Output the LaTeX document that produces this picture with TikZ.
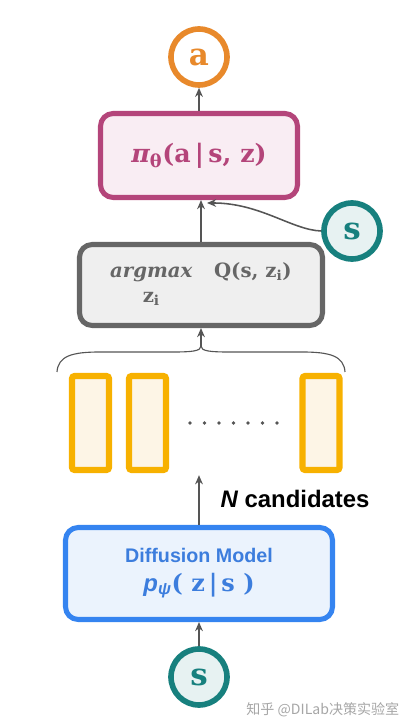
\documentclass[tikz,border=0pt]{standalone}
\usepackage{fontspec}
\setmainfont{DejaVu Serif}
\setsansfont{Liberation Sans}
\newfontfamily\cjk{Noto Sans CJK SC}
\usetikzlibrary{positioning,arrows.meta}
\definecolor{orangeA}{HTML}{E8892B}
\definecolor{piM}{HTML}{B4457A}
\definecolor{piF}{HTML}{F9EDF3}
\definecolor{tealS}{HTML}{17807E}
\definecolor{tealF}{HTML}{E7F2F2}
\definecolor{grayQ}{HTML}{666666}
\definecolor{grayF}{HTML}{EFEFEF}
\definecolor{candO}{HTML}{F7B100}
\definecolor{candF}{HTML}{FDF5E6}
\definecolor{blueD}{HTML}{3584F0}
\definecolor{blueF}{HTML}{EBF3FD}
\definecolor{blueT}{HTML}{3C7DDD}
\definecolor{arrowG}{HTML}{555555}
\begin{document}
\begin{tikzpicture}[>={Stealth[length=6.5pt,width=5.5pt]},line width=1pt]
\tikzset{
	box/.style={draw,rounded corners=9pt,line width=3.6pt,inner sep=2pt},
	vcircle/.style={circle,draw,line width=4pt,minimum size=1.4cm,inner sep=0pt,
		font=\bfseries\fontsize{22}{24}\selectfont},
	cand/.style={draw=candO,fill=candF,line width=4.5pt,rounded corners=2pt,
		minimum width=.925cm,minimum height=2.35cm},
	conn/.style={->,draw=arrowG,line width=1.1pt}
}
\useasboundingbox (0,0) rectangle (10.3,18.2);
% output and policy
\node[vcircle,draw=orangeA,fill=white,text=orangeA] (a) at (4.975,16.775) {a};
\node[box,draw=piM,fill=piF,text=piM,minimum width=4.925cm,minimum height=2.1cm,
	font=\bfseries\fontsize{18}{20}\selectfont] (pi) at (4.975,14.3125)
	{{\itshape π}\textsubscript{θ}(a\,|\,s, z)};
\node[vcircle,draw=tealS,fill=tealF,text=tealS] (sR) at (8.8,12.425) {s};
% selection
\node[box,draw=grayQ,fill=grayF,text=grayQ,minimum width=6.075cm,minimum height=2.025cm,
	font=\bfseries\fontsize{14}{17}\selectfont] (am) at (5.025,11.075)
	{\begin{tabular}{@{}c@{\hspace{1.1em}}l@{}}
	\itshape argmax & Q(s, z\textsubscript{i})\\[1pt]
	z\textsubscript{i} &
	\end{tabular}};
\coordinate (join) at (5.175,13.125);
\coordinate (brtip) at (5.025,9.55);
\draw[conn] (am.north) -- (am.north |- pi.south);
\draw[conn] (sR.west) .. controls (7.3,12.45) and (6.5,13.13) .. (join);
\draw[arrowG,line width=.8pt] (1.425,8.9) .. controls (1.45,9.3) and (1.8,9.4) .. (2.5,9.4)
	-- (4.3,9.4) .. controls (4.8,9.4) and (5.025,9.42) .. (brtip)
	.. controls (5.025,9.42) and (5.25,9.4) .. (5.75,9.4) -- (7.55,9.4)
	.. controls (8.25,9.4) and (8.6,9.3) .. (8.625,8.9);
\draw[conn] (brtip) -- (am.south);
% candidates
\node[cand] (c1) at (2.2625,7.625) {};
\node[cand] (c2) at (3.6875,7.625) {};
\node[cand] (cN) at (8.025,7.625) {};
\foreach \i in {0,...,6}
	\fill[arrowG] (4.75+\i*0.3625,7.625) circle (1.4pt);
% diffusion model
\node[box,draw=blueD,fill=blueF,text=blueT,minimum width=6.675cm,minimum height=2.3cm,
	align=center] (dm) at (4.975,3.8625)
	{{\sffamily\bfseries\fontsize{14}{16}\selectfont Diffusion Model}\\[6pt]
	{\bfseries\fontsize{17}{18}\selectfont{\sffamily\itshape p}\textsubscript{\sffamily\itshape ψ}( z\,|\,s )}};
\coordinate (cand) at (4.975,6.32);
\draw[conn] (dm) -- (cand);
\node[anchor=west,font=\sffamily\bfseries\fontsize{17}{20}\selectfont,inner sep=0pt]
	(nlab) at (5.5,5.725) {\itshape N\upshape\ candidates};
\node[vcircle,draw=tealS,fill=tealF,text=tealS] (sB) at (4.975,1.275) {s};
\draw[conn] (sB) -- (dm);
\draw[conn] (pi) -- (a);
\node[anchor=east,text=black!35,font=\cjk\fontsize{10}{12}\selectfont,inner sep=0pt]
	(wm) at (10.0,0.45) {知乎 @DILab决策实验室};
\end{tikzpicture}
\end{document}
